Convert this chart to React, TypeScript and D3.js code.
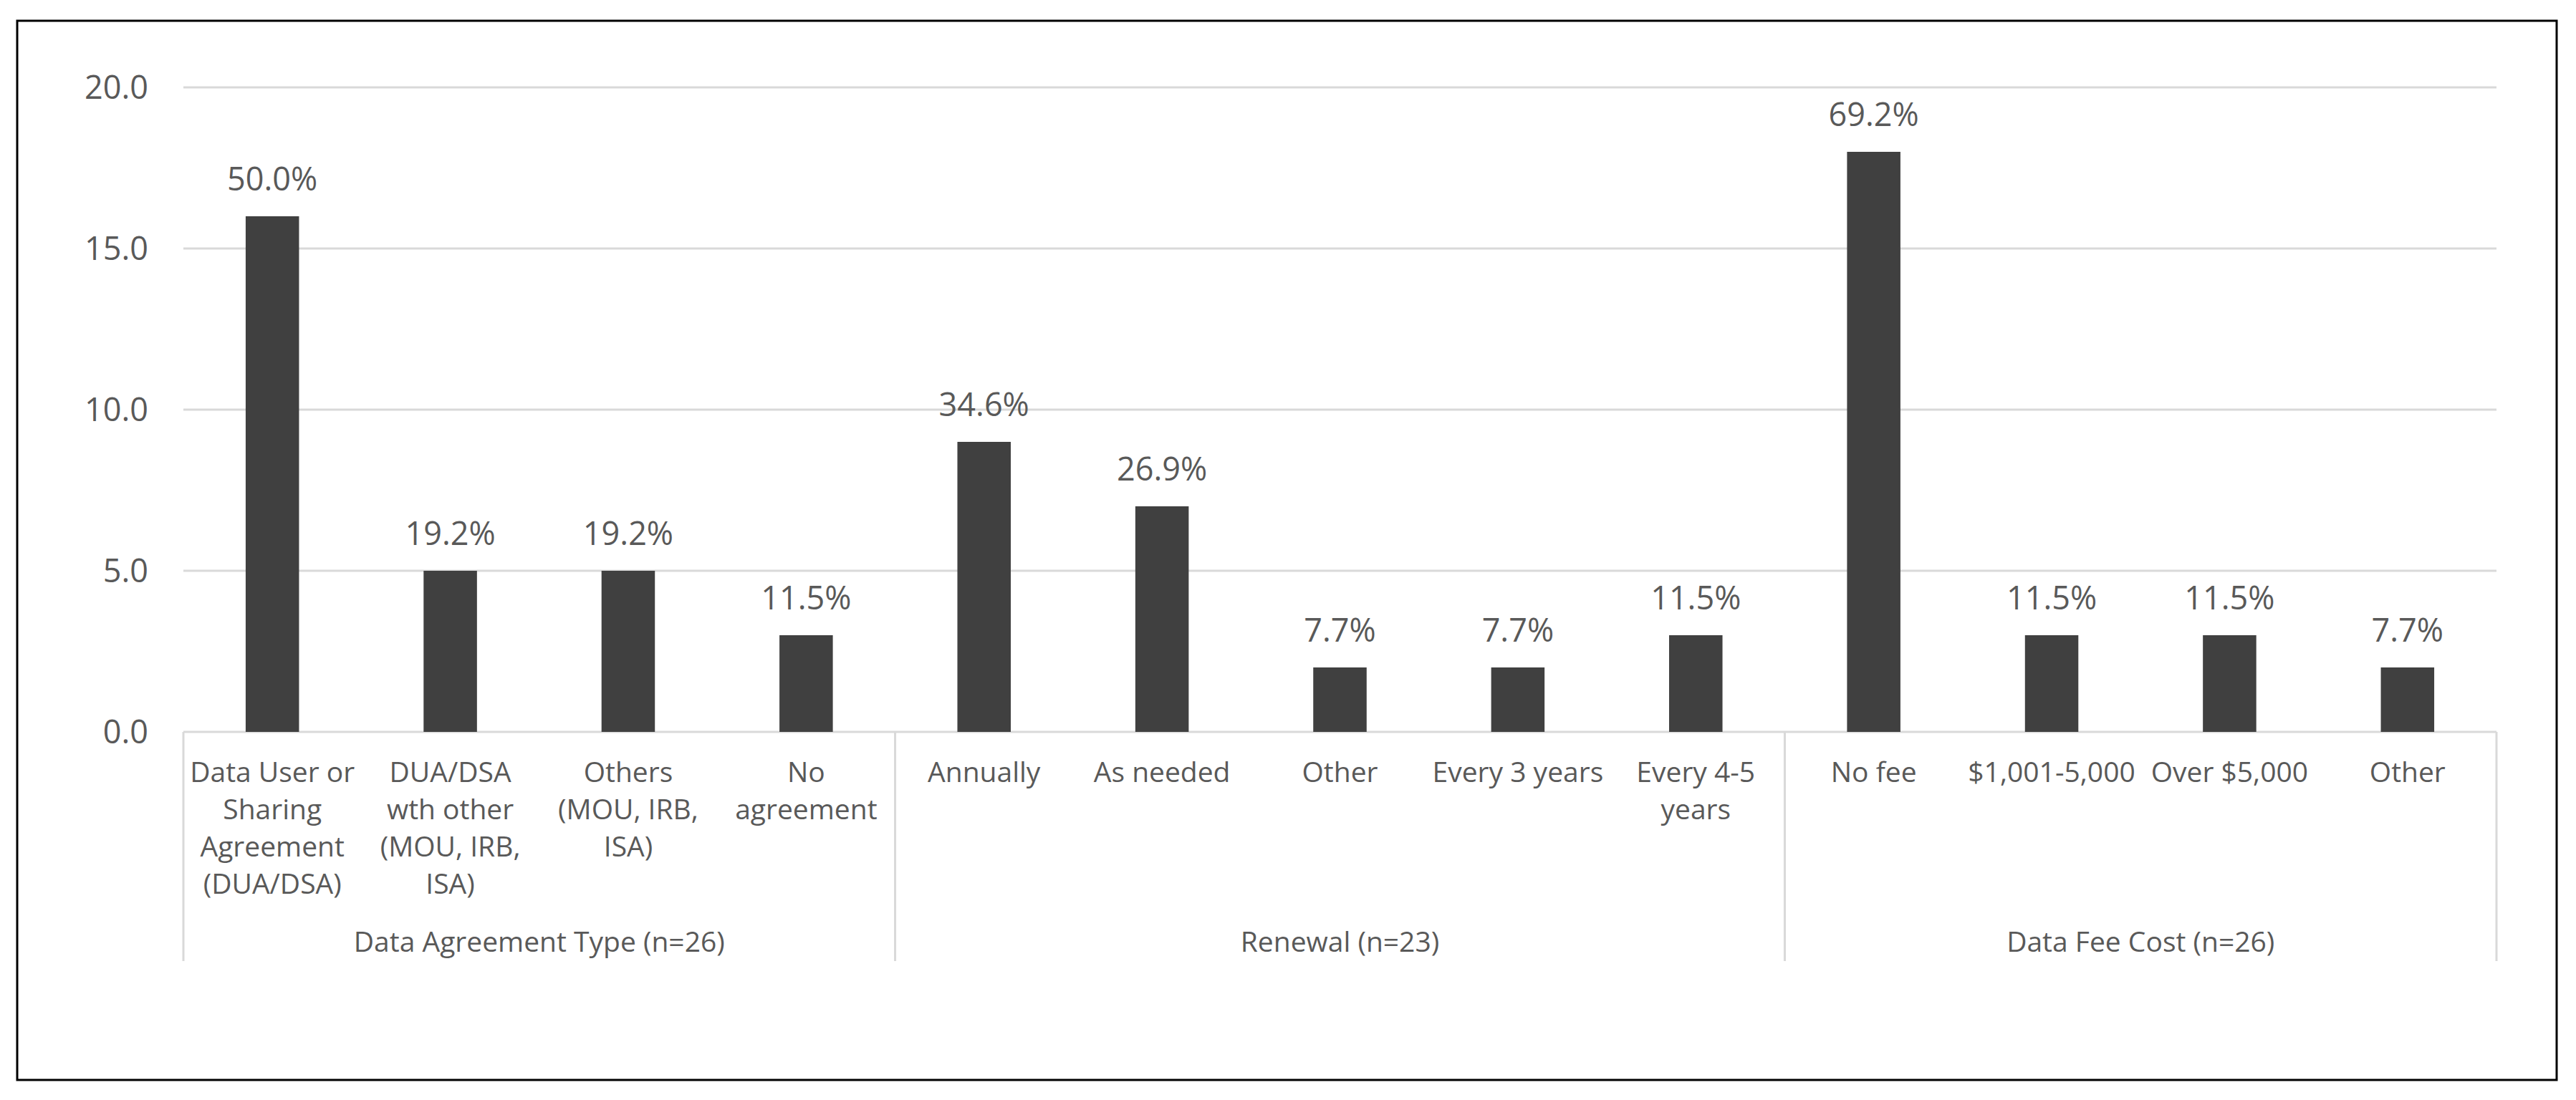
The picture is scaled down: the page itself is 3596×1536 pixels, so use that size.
import { useEffect, useRef } from 'react';
import * as d3 from 'd3';

const groups = ['Data Agreement Type (n=26)', 'Renewal (n=23)', 'Data Fee Cost (n=26)'];
const categoryLabels = [
  'Data User or|Sharing|Agreement|(DUA/DSA)',
  'DUA/DSA|wth other|(MOU, IRB,|ISA)',
  'Others|(MOU, IRB,|ISA)',
  'No|agreement',
  'Annually',
  'As needed',
  'Other',
  'Every 3 years',
  'Every 4-5|years',
  'No fee',
  '$1,001-5,000',
  'Over $5,000',
  'Other',
];
const categoryGroup = [0, 0, 0, 0, 1, 1, 1, 1, 1, 2, 2, 2, 2];
const counts = [16, 5, 5, 3, 9, 7, 2, 2, 3, 18, 3, 3, 2];
const percentLabels = ['50.0%', '19.2%', '19.2%', '11.5%', '34.6%', '26.9%', '7.7%', '7.7%', '11.5%', '69.2%', '11.5%', '11.5%', '7.7%'];
const yTicks = [0, 5, 10, 15, 20];

const FONT = "'Open Sans', sans-serif";
const TEXT = '#595959';
const GRID = '#d9d9d9';
const BAR = '#404040';

export default function App() {
  const svgRef = useRef<SVGSVGElement>(null);
  const width = 3596;
  const height = 1536;

  useEffect(() => {
    document.body.style.margin = '0';
    if (!svgRef.current) return;
    const svg = d3.select(svgRef.current);
    svg.selectAll('*').remove();

    const left = 256, right = 3485, top = 122, bottom = 1022;

    const x = d3.scaleBand<number>()
      .domain(d3.range(counts.length))
      .range([left, right])
      .paddingInner(0.7)
      .paddingOuter(0.35);

    const y = d3.scaleLinear().domain([0, 20]).range([bottom, top]);

    svg.append('rect')
      .attr('width', width)
      .attr('height', height)
      .attr('fill', '#fff');

    // outer frame
    svg.append('rect')
      .attr('x', 24)
      .attr('y', 29)
      .attr('width', 3545)
      .attr('height', 1479)
      .attr('fill', 'none')
      .attr('stroke', '#000')
      .attr('stroke-width', 3);

    // gridlines + axis line
    svg.append('g')
      .selectAll('line')
      .data(yTicks)
      .join('line')
      .attr('x1', left)
      .attr('x2', right)
      .attr('y1', (d) => y(d))
      .attr('y2', (d) => y(d))
      .attr('stroke', GRID)
      .attr('stroke-width', 3);

    svg.append('g')
      .selectAll('text')
      .data(yTicks)
      .join('text')
      .attr('x', 207)
      .attr('y', (d) => y(d))
      .attr('dy', '0.36em')
      .attr('text-anchor', 'end')
      .style('font-family', FONT)
      .style('font-size', '45px')
      .style('fill', TEXT)
      .text((d) => d3.format('.1f')(d));

    // bars
    svg.append('g')
      .selectAll('rect')
      .data(counts)
      .join('rect')
      .attr('x', (d, i) => x(i)!)
      .attr('y', (d) => y(d))
      .attr('width', x.bandwidth())
      .attr('height', (d) => y(0) - y(d))
      .attr('fill', BAR);

    // data labels
    svg.append('g')
      .selectAll('text')
      .data(counts)
      .join('text')
      .attr('x', (d, i) => x(i)! + x.bandwidth() / 2)
      .attr('y', (d) => y(d) - 36)
      .attr('text-anchor', 'middle')
      .style('font-family', FONT)
      .style('font-size', '45px')
      .style('fill', TEXT)
      .text((d, i) => percentLabels[i]);

    // category labels
    const gap = (x.step() - x.bandwidth()) / 2;
    categoryLabels.forEach((label, i) => {
      const t = svg.append('text')
        .attr('x', x(i)! + x.bandwidth() / 2)
        .attr('y', 1092)
        .attr('text-anchor', 'middle')
        .style('font-family', FONT)
        .style('font-size', '39px')
        .style('fill', TEXT);
      label.split('|').forEach((line, j) => {
        t.append('tspan')
          .attr('x', x(i)! + x.bandwidth() / 2)
          .attr('dy', j === 0 ? 0 : 52)
          .text(line);
      });
    });

    // group separators and labels
    groups.forEach((name, g) => {
      const idx = categoryGroup.map((c, i) => (c === g ? i : -1)).filter((i) => i >= 0);
      const x0 = x(idx[0])! - gap;
      const x1 = x(idx[idx.length - 1])! + x.bandwidth() + gap;
      svg.append('text')
        .attr('x', (x0 + x1) / 2)
        .attr('y', 1329)
        .attr('text-anchor', 'middle')
        .style('font-family', FONT)
        .style('font-size', '39px')
        .style('fill', TEXT)
        .text(name);
      [x0, x1].forEach((xv) => {
        svg.append('line')
          .attr('x1', xv)
          .attr('x2', xv)
          .attr('y1', bottom)
          .attr('y2', 1342)
          .attr('stroke', GRID)
          .attr('stroke-width', 3);
      });
    });
  }, []);

  return <svg ref={svgRef} width={width} height={height} style={{ display: 'block' }} />;
}
